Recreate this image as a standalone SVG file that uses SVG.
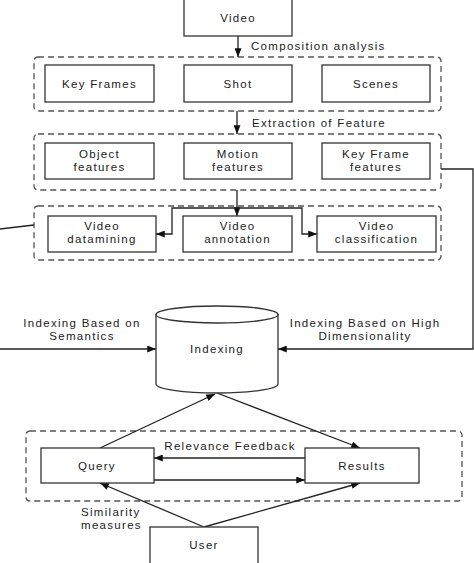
<svg xmlns="http://www.w3.org/2000/svg" width="474" height="563" viewBox="0 0 474 563">
<style>
.box{fill:#fff;stroke:#333;stroke-width:1.3}
.grp{fill:none;stroke:#555;stroke-width:1.3;stroke-dasharray:6 4}
.ln{fill:none;stroke:#222;stroke-width:1.3}
text{font-family:"Liberation Sans",Arial,sans-serif;font-size:11.5px;letter-spacing:1.3px;fill:#222}
.c{text-anchor:middle}
</style>
<defs>
<marker id="ah" viewBox="0 0 10 8" refX="10" refY="4" markerWidth="9" markerHeight="7" markerUnits="userSpaceOnUse" orient="auto">
<path d="M0,0 L10,4 L0,8 Z" fill="#111"/>
</marker>
</defs>
<rect width="474" height="563" fill="#fff"/>

<g id="groups">
<rect id="grp-composition" class="grp" x="34" y="57" width="407" height="54" rx="4"/>
<rect id="grp-features" class="grp" x="34" y="134" width="407" height="56" rx="4"/>
<rect id="grp-apps" class="grp" x="34" y="206" width="407" height="54" rx="4"/>
<rect id="grp-retrieval" class="grp" x="26" y="431" width="436" height="70" rx="4"/>
</g>

<g id="connectors">
<line class="ln" x1="238" y1="36" x2="238" y2="57" marker-end="url(#ah)"/>
<line class="ln" x1="237" y1="111" x2="237" y2="134" marker-end="url(#ah)"/>
<line class="ln" x1="237" y1="190" x2="237" y2="216" marker-end="url(#ah)"/>
<polyline class="ln" points="237,208 172,208 172,234 156,234" marker-end="url(#ah)"/>
<polyline class="ln" points="237,208 302,208 302,234 317,234" marker-end="url(#ah)"/>
<line class="ln" x1="0" y1="229" x2="34" y2="225"/>
<line class="ln" x1="0" y1="349" x2="156" y2="349" marker-end="url(#ah)"/>
<polyline class="ln" points="441,169 473,169 473,349 278,349" marker-end="url(#ah)"/>
<line class="ln" x1="100" y1="448" x2="215" y2="394" marker-end="url(#ah)"/>
<line class="ln" x1="217" y1="393" x2="360" y2="448" marker-end="url(#ah)"/>
<line class="ln" x1="305" y1="458" x2="154" y2="458" marker-end="url(#ah)"/>
<line class="ln" x1="154" y1="480" x2="305" y2="480" marker-end="url(#ah)"/>
<line class="ln" x1="204" y1="527" x2="100" y2="483" marker-end="url(#ah)"/>
<line class="ln" x1="204" y1="527" x2="360" y2="483" marker-end="url(#ah)"/>
</g>

<g id="labels">
<text x="251" y="50">Composition analysis</text>
<text x="252" y="127">Extraction of Feature</text>
<text class="c" x="82" y="327">Indexing Based on</text>
<text class="c" x="82" y="340">Semantics</text>
<text class="c" x="365" y="327">Indexing Based on High</text>
<text class="c" x="365" y="340">Dimensionality</text>
<text class="c" x="230" y="450">Relevance Feedback</text>
<text x="81" y="516">Similarity</text>
<text x="81" y="529">measures</text>
</g>

<g id="video"><rect class="box" x="184" y="-2" width="108" height="38"/><text class="c" x="238" y="22">Video</text></g>
<g id="keyframes"><rect class="box" x="45" y="65" width="109" height="37"/><text class="c" x="99.5" y="88">Key Frames</text></g>
<g id="shot"><rect class="box" x="184" y="65" width="108" height="37"/><text class="c" x="238" y="88">Shot</text></g>
<g id="scenes"><rect class="box" x="322" y="65" width="108" height="37"/><text class="c" x="376" y="88">Scenes</text></g>

<g id="object-features"><rect class="box" x="45" y="143" width="109" height="36"/><text class="c" x="99.5" y="158">Object</text><text class="c" x="99.5" y="171">features</text></g>
<g id="motion-features"><rect class="box" x="184" y="143" width="108" height="36"/><text class="c" x="238" y="158">Motion</text><text class="c" x="238" y="171">features</text></g>
<g id="keyframe-features"><rect class="box" x="322" y="143" width="108" height="36"/><text class="c" x="376" y="158">Key Frame</text><text class="c" x="376" y="171">features</text></g>

<g id="datamining"><rect class="box" x="48" y="216" width="108" height="36"/><text class="c" x="102" y="230">Video</text><text class="c" x="102" y="243">datamining</text></g>
<g id="annotation"><rect class="box" x="183" y="216" width="109" height="36"/><text class="c" x="237.5" y="230">Video</text><text class="c" x="237.5" y="243">annotation</text></g>
<g id="classification"><rect class="box" x="317" y="216" width="119" height="36"/><text class="c" x="376.5" y="230">Video</text><text class="c" x="376.5" y="243">classification</text></g>

<g id="indexing">
<path class="box" d="M156,314.5 L156,384 A61,9 0 0 0 278,384 L278,314.5 Z"/>
<ellipse class="box" cx="217" cy="314.5" rx="61" ry="8.5"/>
<text class="c" x="217" y="353">Indexing</text>
</g>

<g id="query"><rect class="box" x="41" y="448" width="113" height="35"/><text class="c" x="97" y="470">Query</text></g>
<g id="results"><rect class="box" x="305" y="448" width="114" height="35"/><text class="c" x="362" y="470">Results</text></g>
<g id="user"><rect class="box" x="150" y="527" width="108" height="40"/><text class="c" x="204" y="549">User</text></g>
</svg>
